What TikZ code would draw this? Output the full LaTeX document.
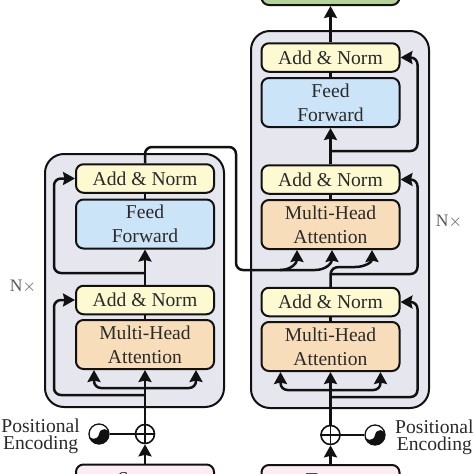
\documentclass[tikz,border=0pt]{standalone}
\usepackage{fontspec}
\setmainfont{Liberation Serif}
\usetikzlibrary{arrows.meta,calc}
\definecolor{groupc}{HTML}{E6E6EE}
\definecolor{addc}{HTML}{FDF9D0}
\definecolor{ffc}{HTML}{CBE4F7}
\definecolor{mhac}{HTML}{F8DDBA}
\definecolor{embc}{HTML}{FBEDF3}
\definecolor{outc}{HTML}{B3D39B}
\definecolor{inkc}{HTML}{111111}
\definecolor{txtc}{HTML}{2A2A2A}
\tikzset{
  groupbox/.style={draw=inkc,line width=2pt,fill=groupc,rounded corners=19pt,inner sep=0pt,minimum width=#1},
  block/.style={draw=inkc,line width=2pt,rounded corners=7.5pt,inner sep=0pt,minimum width=138pt,text=txtc,align=center,
    font=\fontsize{19.6}{24}\selectfont},
  addbox/.style={block,fill=addc,minimum height=28.5pt},
  bigbox/.style={block,minimum height=49pt},
  ffbox/.style={bigbox,fill=ffc},
  mhabox/.style={bigbox,fill=mhac},
  wire/.style={draw=inkc,line width=2.5pt,rounded corners=7pt},
  arrowwire/.style={wire,-{Stealth[length=12pt,width=13pt,inset=1.5pt]}},
  plusnode/.style={circle,draw=inkc,line width=1.6pt,fill=white,minimum size=19pt,inner sep=0pt},
  iconnode/.style={circle,draw=inkc,line width=1.3pt,fill=white,minimum size=20pt,inner sep=0pt},
  poslabel/.style={align=center,inner sep=0pt,text=txtc,font=\fontsize{19.6}{17}\selectfont},
  nlabel/.style={inner sep=0pt,text=black!65,font=\fontsize{17.5}{20}\selectfont},
}
\newcommand{\waveicon}[1]{%
  \begin{scope}[shift={(#1.center)}]
    \fill[inkc] (-10,0) .. controls (-10,5.5) and (-5.5,10) .. (0,10)
      .. controls (5.5,10) and (10,5.5) .. (10,0)
      .. controls (10,-6.5) and (1,-6.5) .. (0,0)
      .. controls (-1,6.5) and (-10,6.5) .. (-10,0) -- cycle;
  \end{scope}}
\newcommand{\plusmark}[1]{%
  \draw[inkc,line width=1.2pt] (#1.north) -- (#1.south) (#1.west) -- (#1.east);}
\begin{document}
\begin{tikzpicture}[x=1pt,y=-1pt]
\clip (0,0) rectangle (474,474);
\fill[white] (0,0) rectangle (474,474);
% groups
\node[groupbox=179pt,minimum height=253pt] (encgroup) at (134.5,280.5) {};
\node[groupbox=178pt,minimum height=377pt] (decgroup) at (340,219.5) {};
% encoder
\node[addbox] (eadd2) at (145,178.5) {Add \& Norm};
\node[ffbox]  (eff)   at (145,224) {Feed\\Forward};
\node[addbox] (eadd1) at (145,300) {Add \& Norm};
\node[mhabox] (emha)  at (145,344.5) {Multi-Head\\Attention};
\node[plusnode] (eplus) at (145,434) {};
\node[iconnode] (eicon) at (99,434) {};
\node[poslabel,anchor=east] (epos) at (80,436) {Positional\\Encoding};
\node[block,fill=embc,minimum height=60pt,anchor=north,text height=18pt,text depth=36pt] (esrc) at (145,463.5) {Source};
% decoder
\node[block,fill=outc,minimum height=30pt,anchor=south] (dout) at (330.5,6) {};
\node[addbox] (dadd3) at (330.5,57.5) {Add \& Norm};
\node[ffbox]  (dff)   at (330.5,102.5) {Feed\\Forward};
\node[addbox] (dadd2) at (330.5,179.5) {Add \& Norm};
\node[mhabox] (dmha2) at (330.5,224.5) {Multi-Head\\Attention};
\node[addbox] (dadd1) at (330.5,302) {Add \& Norm};
\node[mhabox] (dmha1) at (330.5,346.5) {Multi-Head\\Attention};
\node[plusnode] (dplus) at (330.5,435) {};
\node[iconnode] (dicon) at (375,435) {};
\node[poslabel,anchor=west] (dpos) at (395,437) {Positional\\Encoding};
\node[block,fill=embc,minimum height=60pt,anchor=north,text height=18pt,text depth=36pt] (dsrc) at (330.5,464) {Target};
\node[nlabel] (nl) at (23,286) {N$\times$};
\node[nlabel] (nr) at (449,221) {N$\times$};
\waveicon{eicon}\waveicon{dicon}
\plusmark{eplus}\plusmark{dplus}
% junctions
\coordinate (ej1) at (145,395);
\coordinate (ej2) at (145,388);
\coordinate (ej3) at (145,273);
\coordinate (dj1) at (330.5,397);
\coordinate (dj2) at (330.5,390);
\coordinate (dj3) at (330.5,274);
\coordinate (dj4) at (330.5,151);
\coordinate (cross) at (145,147);
% encoder connectors
\draw[arrowwire] (esrc.north) -- (eplus.south);
\draw[wire] (eicon.east) -- (eplus.west);
\draw[arrowwire] (eplus.north) -- (emha.south);
\draw[arrowwire] (ej2) -| ($(emha.south)+(-51,0)$);
\draw[arrowwire] (ej2) -| ($(emha.south)+(51,0)$);
\draw[arrowwire] (ej1) -| ($(eadd1.west)+(-21,0)$) -- (eadd1.west);
\draw[wire] (emha.north) -- (eadd1.south);
\draw[arrowwire] (eadd1.north) -- (eff.south);
\draw[arrowwire] (ej3) -| ($(eadd2.west)+(-21,0)$) -- (eadd2.west);
\draw[wire] (eff.north) -- (eadd2.south);
% decoder connectors
\draw[arrowwire] (dsrc.north) -- (dplus.south);
\draw[wire] (dicon.west) -- (dplus.east);
\draw[arrowwire] (dplus.north) -- (dmha1.south);
\draw[arrowwire] (dj2) -| ($(dmha1.south)+(-50,0)$);
\draw[arrowwire] (dj2) -| ($(dmha1.south)+(50,0)$);
\draw[arrowwire] (dj1) -| ($(dadd1.east)+(17,0)$) -- (dadd1.east);
\draw[wire] (dmha1.north) -- (dadd1.south);
\draw[arrowwire] (dj3) -| ($(dadd2.east)+(17,0)$) -- (dadd2.east);
\draw[wire] (dmha2.north) -- (dadd2.south);
\draw[arrowwire] (dadd2.north) -- (dff.south);
\draw[arrowwire] (dj4) -| ($(dadd3.east)+(17,0)$) -- (dadd3.east);
\draw[wire] (dff.north) -- (dadd3.south);
\draw[arrowwire] (dadd3.north) -- (dout.south);
% decoder self-link to third attention input
\draw[arrowwire,rounded corners=0pt] (dadd1.north) -- (330.5,276)
  .. controls (330.5,269) and (334,267) .. (340,267) -- (355,267)
  .. controls (365,267) and (372,262) .. ($(dmha2.south)+(41.5,0)$);
% encoder to decoder
\draw[wire] (eadd2.north) -- (cross) -- (236,147) -- (236,270) -- (280,270);
\coordinate (ca) at (280,270);
\draw[arrowwire,rounded corners=0pt] (ca) .. controls (291,270) and (297,263) .. ($(dmha2.south)+(-33.5,0)$);
\draw[arrowwire,rounded corners=0pt] (ca) -- (315,270) .. controls (326,270) and (332,263) .. ($(dmha2.south)+(1.5,0)$);
\end{tikzpicture}
\end{document}
